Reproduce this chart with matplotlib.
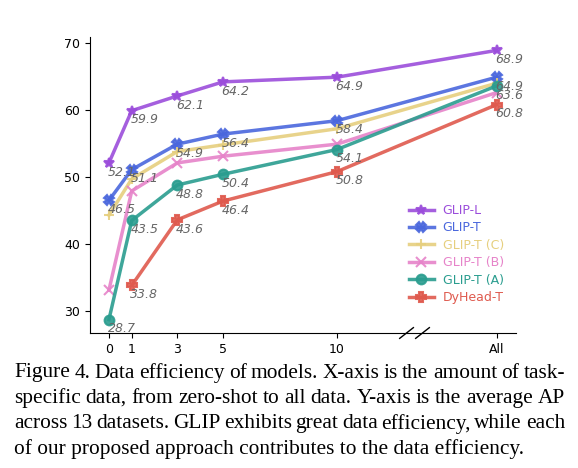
import numpy as np
import matplotlib
matplotlib.use('Agg')
import matplotlib.pyplot as plt

# x positions: 0,1,3,5,10 shots, "All" put after a break
shots = [0, 1, 3, 5, 10, 17]
tick_labels = ['0', '1', '3', '5', '10', 'All']

glip_l = [52.1, 59.9, 62.1, 64.2, 64.9, 68.9]
glip_t = [46.5, 51.1, 54.9, 56.4, 58.4, 64.9]
glip_t_c = [44.3, 49.7, 53.8, 54.8, 57.2, 64.0]
glip_t_b = [33.1, 47.9, 52.1, 53.1, 54.9, 62.6]
glip_t_a = [28.7, 43.5, 48.8, 50.4, 54.1, 63.6]
dyhead_shots = [1, 3, 5, 10, 17]
dyhead_t = [33.8, 43.6, 46.4, 50.8, 60.8]

series = [
    ('GLIP-L', shots, glip_l, '#9b4ddb', '*', True),
    ('GLIP-T', shots, glip_t, '#4a67dd', 'X', True),
    ('GLIP-T (C)', shots, glip_t_c, '#e6cf7e', '+', False),
    ('GLIP-T (B)', shots, glip_t_b, '#e683c9', 'x', False),
    ('GLIP-T (A)', shots, glip_t_a, '#2a9d8f', 'o', True),
    ('DyHead-T', dyhead_shots, dyhead_t, '#df5a4e', 'P', True),
]

caption = [
    "Figure 4. Data efficiency of models. X-axis is the amount of task-",
    "specific data, from zero-shot to all data.  Y-axis is the average AP",
    "across 13 datasets. GLIP exhibits great data efficiency, while each",
    "of our proposed approach contributes to the data efficiency.",
]

fig = plt.figure(figsize=(5.78, 4.68), dpi=100)
ax = fig.add_axes([90/578, 1-333/468, (516-90)/578, (333-37)/468])

for name, xs, ys, col, mk, annot in series:
    ax.plot(xs, ys, color=col, marker=mk, markersize=7, linewidth=2.5,
            alpha=0.9, label=name, markeredgewidth=1.5)
    if annot:
        for x, y in zip(xs, ys):
            ax.annotate(f'{y:.1f}', (x, y), xytext=(-1, -2), textcoords='offset points',
                        ha='left', va='top', fontsize=9, style='italic', color='#666666')

ax.set_xlim(-0.83, 17.85)
ax.set_ylim(26.7, 70.9)
ax.set_xticks(shots)
ax.set_xticklabels(tick_labels)
ax.set_yticks([30, 40, 50, 60, 70])
ax.tick_params(labelsize=9)
ax.spines['top'].set_visible(False)
ax.spines['right'].set_visible(False)

# axis break marks
for xb in [13.05, 13.75]:
    ax.plot([xb - 0.3, xb + 0.3], [26.7 - 0.8, 26.7 + 0.8], color='black',
            linewidth=1, clip_on=False)

leg = ax.legend(loc='lower right', bbox_to_anchor=(0.998, 0.06), frameon=False,
                fontsize=9, handlelength=2.0, labelspacing=0.35, handletextpad=0.7)
for text, line in zip(leg.get_texts(), leg.get_lines()):
    text.set_color(line.get_color())

# justified caption
fig.canvas.draw()
renderer = fig.canvas.get_renderer()
left, right = 14, 565
fs = 15.4
for i, line in enumerate(caption):
    ypix = 373 + i * 25.3
    yf = 1 - ypix / 468
    words = line.split()
    if i == len(caption) - 1:
        fig.text(left / 578, yf, ' '.join(words), fontsize=fs, family='Liberation Serif',
                 va='center', ha='left')
        continue
    widths = []
    for w in words:
        t = fig.text(0, 0, w, fontsize=fs, family='Liberation Serif')
        widths.append(t.get_window_extent(renderer).width)
        t.remove()
    gap = (right - left - sum(widths)) / (len(words) - 1)
    x = left
    for w, wd in zip(words, widths):
        fig.text(x / 578, yf, w, fontsize=fs, family='Liberation Serif', va='center', ha='left')
        x += wd + gap

fig.savefig('out.png', dpi=100)
